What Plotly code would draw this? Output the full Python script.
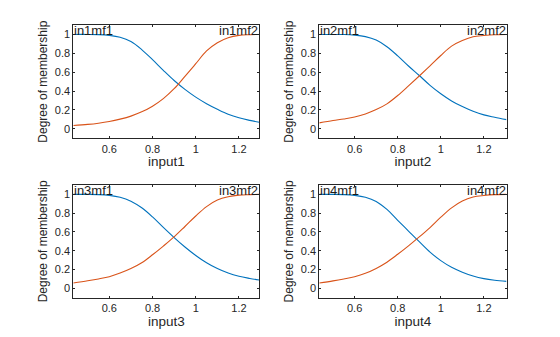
import plotly.graph_objects as go

# ---- data ----
grid_mid = [0.5, 0.55, 0.6, 0.65, 0.7, 0.75, 0.8, 0.85, 0.9, 0.95, 1.0, 1.05, 1.1, 1.15, 1.2, 1.25]
x_p1 = [0.4335] + grid_mid + [1.294]
x_p2 = [0.436] + grid_mid + [1.305]
x_p3 = [0.4335] + grid_mid + [1.294]
x_p4 = [0.436] + grid_mid + [1.305]

in1mf1 = [1.0, 1.0, 0.998, 0.99, 0.97, 0.925, 0.84, 0.733, 0.62, 0.512, 0.418, 0.336, 0.267, 0.208, 0.155, 0.117, 0.09, 0.07]
in1mf2 = [0.035, 0.047, 0.06, 0.078, 0.103, 0.135, 0.18, 0.24, 0.32, 0.425, 0.556, 0.69, 0.825, 0.912, 0.965, 0.99, 0.997, 1.0]
in2mf1 = [1.0, 1.0, 0.999, 0.993, 0.977, 0.94, 0.87, 0.773, 0.666, 0.565, 0.461, 0.372, 0.296, 0.236, 0.186, 0.148, 0.123, 0.098]
in2mf2 = [0.063, 0.088, 0.105, 0.126, 0.158, 0.204, 0.265, 0.353, 0.455, 0.56, 0.668, 0.777, 0.876, 0.935, 0.975, 0.988, 0.997, 1.0]
in3mf1 = [1.0, 1.0, 0.998, 0.99, 0.97, 0.928, 0.857, 0.76, 0.648, 0.54, 0.44, 0.35, 0.272, 0.21, 0.162, 0.128, 0.105, 0.088]
in3mf2 = [0.057, 0.08, 0.10, 0.124, 0.162, 0.21, 0.272, 0.357, 0.45, 0.548, 0.658, 0.77, 0.87, 0.94, 0.975, 0.992, 0.997, 1.0]
in4mf1 = [1.0, 1.0, 0.998, 0.99, 0.97, 0.925, 0.84, 0.724, 0.61, 0.496, 0.385, 0.295, 0.224, 0.172, 0.131, 0.103, 0.086, 0.074]
in4mf2 = [0.056, 0.079, 0.10, 0.124, 0.16, 0.212, 0.278, 0.362, 0.452, 0.547, 0.647, 0.757, 0.857, 0.93, 0.972, 0.988, 0.997, 1.0]

input_names = ["input1", "input2", "input3", "input4"]
mf_names = [["in1mf1", "in1mf2"], ["in2mf1", "in2mf2"], ["in3mf1", "in3mf2"], ["in4mf1", "in4mf2"]]
xs = [x_p1, x_p2, x_p3, x_p4]
ys = [[in1mf1, in1mf2], [in2mf1, in2mf2], [in3mf1, in3mf2], [in4mf1, in4mf2]]

xtick_vals = [0.6, 0.8, 1.0, 1.2]
xtick_text = ["0.6", "0.8", "1", "1.2"]
ytick_vals = [0, 0.2, 0.4, 0.6, 0.8, 1.0]
ytick_text = ["0", "0.2", "0.4", "0.6", "0.8", "1"]

# ---- layout ----
W, H = 560, 337
xdoms = [[73.3 / W, 259.3 / W], [319.3 / W, 506.5 / W]]
ydoms = [[1 - 138.3 / H, 1 - 25 / H], [1 - 297.7 / H, 1 - 185 / H]]
colors = ["#0072BD", "#D95319"]
FONT = "Liberation Sans, Arial, sans-serif"
AXC = "#262626"

fig = go.Figure()
layout = dict(
    width=W, height=H, margin=dict(l=0, r=0, t=0, b=0),
    paper_bgcolor="white", plot_bgcolor="white", showlegend=False,
    font=dict(family=FONT, color=AXC, size=11),
)
annotations = []
for i in range(4):
    r, c = divmod(i, 2)
    k = "" if i == 0 else str(i + 1)
    xa, ya = "x" + k, "y" + k
    for j in range(2):
        fig.add_trace(go.Scatter(
            x=xs[i], y=ys[i][j], mode="lines",
            line=dict(color=colors[j], width=1.1, shape="spline", smoothing=1.0),
            xaxis=xa, yaxis=ya, hoverinfo="skip"))
    lo, hi = xs[i][0], xs[i][-1]
    layout["xaxis" + k] = dict(
        domain=xdoms[c], anchor=ya, range=[lo, hi], tickvals=xtick_vals, ticktext=xtick_text,
        ticks="inside", ticklen=2, tickcolor=AXC, showline=True, linecolor=AXC, linewidth=1,
        mirror="allticks", showgrid=False, zeroline=False, tickfont=dict(size=11, color=AXC),
        title=dict(text=input_names[i], font=dict(size=13.5, color=AXC), standoff=2),
    )
    layout["yaxis" + k] = dict(
        domain=ydoms[r], anchor=xa, range=[-0.1, 1.1], tickvals=ytick_vals, ticktext=ytick_text,
        ticks="inside", ticklen=2, tickcolor=AXC, showline=True, linecolor=AXC, linewidth=1,
        mirror="allticks", showgrid=False, zeroline=False, tickfont=dict(size=11, color=AXC),
        title=dict(text="Degree of membership", font=dict(size=12, color=AXC), standoff=4),
    )
    annotations.append(dict(x=lo, y=1.037, xref=xa, yref=ya, text=mf_names[i][0], showarrow=False,
                            xanchor="left", yanchor="middle", font=dict(size=13, color="#1a1a1a"), xshift=-1))
    annotations.append(dict(x=hi, y=1.037, xref=xa, yref=ya, text=mf_names[i][1], showarrow=False,
                            xanchor="right", yanchor="middle", font=dict(size=13, color="#1a1a1a"), xshift=1))
layout["annotations"] = annotations
fig.update_layout(**layout)
fig.write_html("out.html")
